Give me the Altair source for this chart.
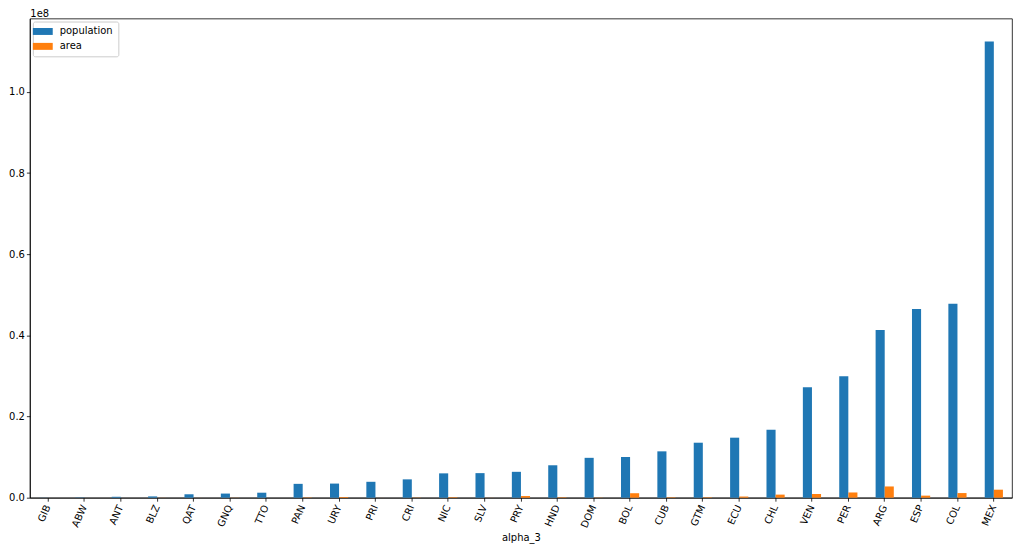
import altair as alt
import pandas as pd

countries = ["GIB", "ABW", "ANT", "BLZ", "QAT", "GNQ", "TTO", "PAN", "URY", "PRI",
             "CRI", "NIC", "SLV", "PRY", "HND", "DOM", "BOL", "CUB", "GTM", "ECU",
             "CHL", "VEN", "PER", "ARG", "ESP", "COL", "MEX"]
population = [27884, 71566, 223652, 314522, 840926, 1014999, 1228691, 3410676, 3477778, 3916632,
              4516220, 5995928, 6052064, 6375830, 7989415, 9823821, 10031000, 11423000, 13550440, 14790608,
              16746491, 27223228, 29907003, 41343201, 46505963, 47790000, 112468855]
area = [6.5, 193, 960, 22966, 11437, 28051, 5128, 78200, 176220, 9104,
        51100, 129494, 21040, 406750, 112090, 48730, 1098580, 110860, 108890, 283560,
        756950, 912050, 1285220, 2766890, 504782, 1138910, 1972550]
series = ["population", "area"]
y_ticks = [0, 2e7, 4e7, 6e7, 8e7, 1e8]

rows = []
for c, p, a in zip(countries, population, area):
    rows.append({"alpha_3": c, "series": "population", "value": p})
    rows.append({"alpha_3": c, "series": "area", "value": a})
df = pd.DataFrame(rows)

font = "DejaVu Sans"

chart = alt.Chart(df).mark_bar().encode(
    x=alt.X("alpha_3:N", sort=countries,
            scale=alt.Scale(paddingInner=0.5, paddingOuter=0.25),
            axis=alt.Axis(title="alpha_3", labelAngle=294, labelAlign="right",
                          labelBaseline="middle", labelPadding=4, tickSize=3.5,
                          titlePadding=3, titleFontWeight="normal")),
    xOffset=alt.XOffset("series:N", sort=series),
    y=alt.Y("value:Q", scale=alt.Scale(domain=[0, 1.181e8], nice=False, zero=True),
            axis=alt.Axis(values=y_ticks, labelExpr="format(datum.value / 1e8, '.1f')",
                          title="1e8", titleAngle=0, titleAlign="left", titleX=0, titleY=0,
                          titleBaseline="bottom", titleFontWeight="normal", grid=False,
                          tickSize=3.5, labelPadding=2)),
    color=alt.Color("series:N", scale=alt.Scale(domain=series, range=["#1f77b4", "#ff7f0e"]),
                    legend=alt.Legend(title=None, orient="top-left", offset=3,
                                      strokeColor="#cccccc", fillColor="white", padding=5,
                                      cornerRadius=2,
                                      symbolType="M-2,-0.7L2,-0.7L2,0.7L-2,0.7Z",
                                      symbolSize=100, symbolStrokeWidth=0, labelOffset=12,
                                      labelFontSize=10, labelFont=font, rowPadding=5)),
).properties(
    width=988, height=482,
    autosize=alt.AutoSizeParams(type="none"),
    padding={"left": 22, "top": 9, "right": 4, "bottom": 47},
).configure_axis(
    labelFont=font, titleFont=font, labelFontSize=10, titleFontSize=10,
    labelColor="black", titleColor="black", domainColor="black", tickColor="black",
    domainWidth=0.8, tickWidth=0.8,
).configure_view(stroke="black", strokeWidth=0.8)

chart.save("out.html", embed_options={"renderer": "svg", "actions": False})
